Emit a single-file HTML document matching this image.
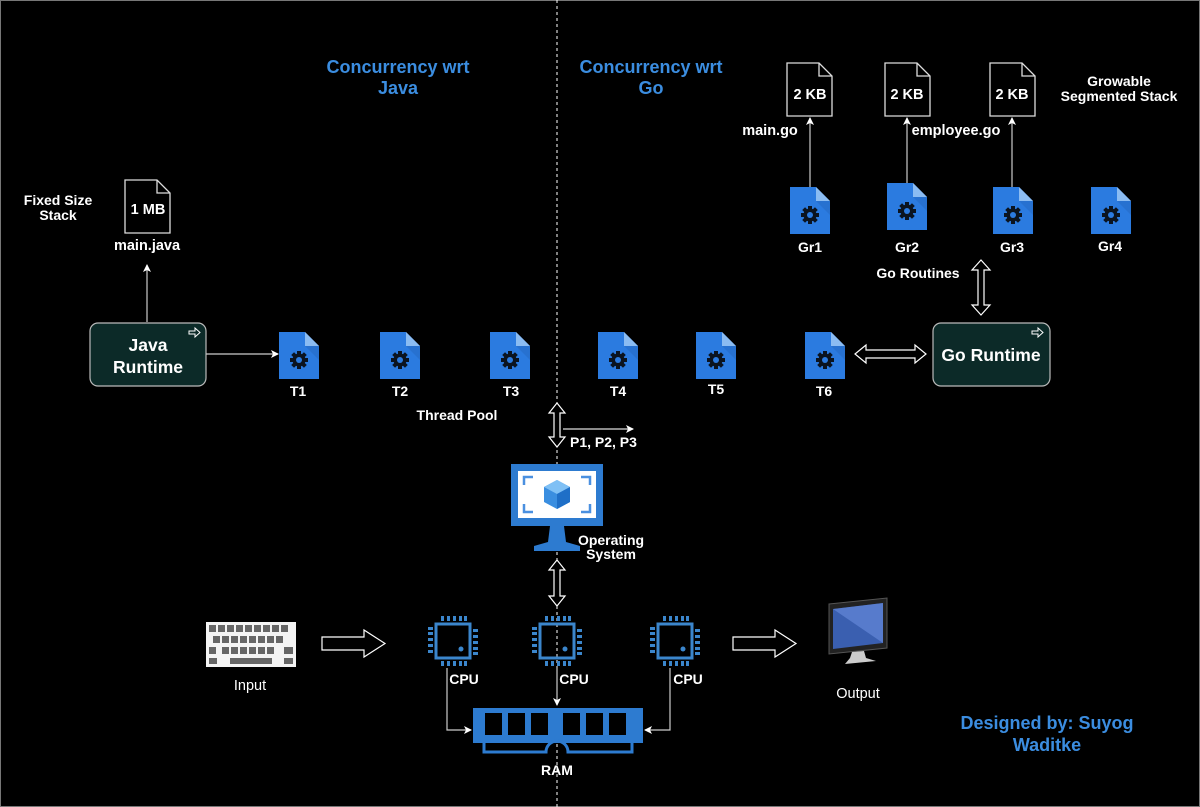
<!DOCTYPE html>
<html><head><meta charset="utf-8"><style>
html,body{margin:0;padding:0;background:#000;}
svg{display:block}
text{font-family:"Liberation Sans",Arial,sans-serif;fill:#fff;font-weight:bold;}
</style></head><body>
<svg width="1200" height="807" viewBox="0 0 1200 807" xmlns="http://www.w3.org/2000/svg">
<defs>
<g id="gdoc">
<path d="M0 0H26L40 14V47H0Z" fill="#2b7be0"/>
<path d="M26 0L40 14H26Z" fill="#8bbcf2"/>
<path d="M26 14L40 14L40 28Z" fill="#246bc4" opacity="0.6"/>
<g transform="translate(20,28)" fill="#0b1420">
<circle r="6.5"/>
<rect x="-2" y="-9" width="4" height="18"/>
<rect x="-9" y="-2" width="18" height="4"/>
<rect x="-2" y="-9" width="4" height="18" transform="rotate(45)"/>
<rect x="-2" y="-9" width="4" height="18" transform="rotate(-45)"/>
<circle r="3" fill="#2b7be0"/>
</g>
</g>
<g id="wdoc">
<path d="M0 0H32L45 13V53H0Z" fill="#000" stroke="#ddd" stroke-width="1.3"/>
<path d="M32 0V13H45" fill="none" stroke="#ddd" stroke-width="1.3"/>
</g>
<g id="cpu" fill="#3b86cc">
<rect x="-17" y="-17" width="34" height="34" fill="none" stroke="#3b86cc" stroke-width="3"/>
<circle cx="8" cy="8" r="2.5"/>
<g id="pins">
<rect x="-12" y="-25" width="3" height="5"/><rect x="-6" y="-25" width="3" height="5"/><rect x="0" y="-25" width="3" height="5"/><rect x="6" y="-25" width="3" height="5"/><rect x="11" y="-25" width="3" height="5"/>
</g>
<use href="#pins" transform="translate(0,45)"/>
<use href="#pins" transform="rotate(90)"/>
<use href="#pins" transform="rotate(-90)"/>
</g>
<marker id="ah" markerWidth="8" markerHeight="8" refX="7" refY="4" orient="auto" markerUnits="userSpaceOnUse"><path d="M0 0L8 4L0 8L2 4Z" fill="#fff"/></marker>
</defs>
<rect x="0.5" y="0.5" width="1199" height="806" fill="#000" stroke="#777"/>
<line x1="557" y1="0" x2="557" y2="807" stroke="#fff" stroke-width="1" stroke-dasharray="3,3"/>

<text x="398" y="73" font-size="18" text-anchor="middle" style="fill:#3b8de0">Concurrency wrt</text>
<text x="398" y="94" font-size="18" text-anchor="middle" style="fill:#3b8de0">Java</text>
<text x="651" y="73" font-size="18" text-anchor="middle" style="fill:#3b8de0">Concurrency wrt</text>
<text x="651" y="94" font-size="18" text-anchor="middle" style="fill:#3b8de0">Go</text>

<text x="58" y="205" font-size="14" text-anchor="middle">Fixed Size</text>
<text x="58" y="220" font-size="14" text-anchor="middle">Stack</text>
<use href="#wdoc" x="125" y="180"/>
<text x="148" y="214" font-size="14.5" text-anchor="middle">1 MB</text>
<text x="147" y="250" font-size="14.5" text-anchor="middle">main.java</text>
<line x1="147" y1="322" x2="147" y2="265" stroke="#ccc" stroke-width="1.2" marker-end="url(#ah)"/>

<rect x="90" y="323" width="116" height="63" rx="8" fill="#0c2a28" stroke="#bbb" stroke-width="1.2"/>
<text x="148" y="351" font-size="17.5" text-anchor="middle">Java</text>
<text x="148" y="373" font-size="17.5" text-anchor="middle">Runtime</text>
<path d="M189 331h6v-3l5 4.5-5 4.5v-3h-6z" fill="none" stroke="#fff" stroke-width="1"/>
<line x1="206" y1="354" x2="278" y2="354" stroke="#ccc" stroke-width="1.2" marker-end="url(#ah)"/>

<use href="#gdoc" x="279" y="332"/><text x="298" y="396" font-size="14" text-anchor="middle">T1</text>
<use href="#gdoc" x="380" y="332"/><text x="400" y="396" font-size="14" text-anchor="middle">T2</text>
<use href="#gdoc" x="490" y="332"/><text x="511" y="396" font-size="14" text-anchor="middle">T3</text>
<use href="#gdoc" x="598" y="332"/><text x="618" y="396" font-size="14" text-anchor="middle">T4</text>
<use href="#gdoc" x="696" y="332"/><text x="716" y="394" font-size="14" text-anchor="middle">T5</text>
<use href="#gdoc" x="805" y="332"/><text x="824" y="396" font-size="14" text-anchor="middle">T6</text>
<text x="457" y="420" font-size="14" text-anchor="middle">Thread Pool</text>

<polygon points="557,403 565,413 560,413 560,437 565,437 557,447 549,437 554,437 554,413 549,413" fill="#000" stroke="#fff" stroke-width="1.2"/>
<line x1="563" y1="429" x2="633" y2="429" stroke="#ddd" stroke-width="1.2" marker-end="url(#ah)"/>
<text x="570" y="447" font-size="14">P1, P2, P3</text>

<rect x="511" y="464" width="92" height="62" fill="#2d7bd0"/>
<rect x="518" y="471" width="78" height="47" fill="#fff"/>
<path d="M524 485v-8h9M590 485v-8h-9M524 504v8h9M590 504v8h-9" fill="none" stroke="#4a90e0" stroke-width="2.5"/>
<polygon points="557,480 570,487 570,502 557,509 544,502 544,487" fill="#3a8ee0"/>
<polygon points="557,480 570,487 557,494 544,487" fill="#7fc0f5"/>
<polygon points="557,494 570,487 570,502 557,509" fill="#1f6fc7"/>
<polygon points="550,526 564,526 566,542 580,546 580,551 534,551 534,546 548,542" fill="#2d7bd0"/>
<text x="611" y="545" font-size="14" text-anchor="middle">Operating</text>
<text x="611" y="559" font-size="14" text-anchor="middle">System</text>
<polygon points="557,560 565,570 560,570 560,596 565,596 557,606 549,596 554,596 554,570 549,570" fill="#000" stroke="#fff" stroke-width="1.2"/>

<use href="#cpu" x="453" y="641"/>
<use href="#cpu" x="557" y="641"/>
<use href="#cpu" x="675" y="641"/>
<text x="464" y="684" font-size="14" text-anchor="middle">CPU</text>
<text x="574" y="684" font-size="14" text-anchor="middle">CPU</text>
<text x="688" y="684" font-size="14" text-anchor="middle">CPU</text>
<path d="M447 668V730H471" fill="none" stroke="#ccc" stroke-width="1.2" marker-end="url(#ah)"/>
<path d="M670 668V730H645" fill="none" stroke="#ccc" stroke-width="1.2" marker-end="url(#ah)"/>
<line x1="557" y1="668" x2="557" y2="705" stroke="#ccc" stroke-width="1.2" marker-end="url(#ah)"/>

<rect x="473" y="708" width="170" height="35" fill="#2d7bd0"/>
<rect x="485" y="713" width="17" height="22" fill="#000"/><rect x="508" y="713" width="17" height="22" fill="#000"/><rect x="531" y="713" width="17" height="22" fill="#000"/>
<rect x="563" y="713" width="17" height="22" fill="#000"/><rect x="586" y="713" width="17" height="22" fill="#000"/><rect x="609" y="713" width="17" height="22" fill="#000"/>
<path d="M484 743v9h62a11 11 0 0 1 22 0h64v-9" fill="none" stroke="#2d7bd0" stroke-width="3"/>
<text x="557" y="775" font-size="14" text-anchor="middle">RAM</text>

<rect x="206" y="622" width="90" height="45" fill="#f4f4f4"/>
<g fill="#666">
<rect x="209" y="625" width="7" height="7"/><rect x="218" y="625" width="7" height="7"/><rect x="227" y="625" width="7" height="7"/><rect x="236" y="625" width="7" height="7"/><rect x="245" y="625" width="7" height="7"/><rect x="254" y="625" width="7" height="7"/><rect x="263" y="625" width="7" height="7"/><rect x="272" y="625" width="7" height="7"/><rect x="281" y="625" width="7" height="7"/>
<rect x="213" y="636" width="7" height="7"/><rect x="222" y="636" width="7" height="7"/><rect x="231" y="636" width="7" height="7"/><rect x="240" y="636" width="7" height="7"/><rect x="249" y="636" width="7" height="7"/><rect x="258" y="636" width="7" height="7"/><rect x="267" y="636" width="7" height="7"/><rect x="276" y="636" width="7" height="7"/>
<rect x="209" y="647" width="7" height="7"/><rect x="222" y="647" width="7" height="7"/><rect x="231" y="647" width="7" height="7"/><rect x="240" y="647" width="7" height="7"/><rect x="249" y="647" width="7" height="7"/><rect x="258" y="647" width="7" height="7"/><rect x="267" y="647" width="7" height="7"/><rect x="284" y="647" width="9" height="7"/>
<rect x="209" y="658" width="8" height="6"/><rect x="230" y="658" width="42" height="6"/><rect x="284" y="658" width="9" height="6"/>
</g>
<text x="250" y="690" font-size="14.5" text-anchor="middle" style="font-weight:normal">Input</text>
<polygon points="322,637 364,637 364,630 385,643.5 364,657 364,650 322,650" fill="#000" stroke="#fff" stroke-width="1.2"/>
<polygon points="733,637 775,637 775,630 796,643.5 775,657 775,650 733,650" fill="#000" stroke="#fff" stroke-width="1.2"/>

<polygon points="829,604 887,598 887,648 829,654" fill="#222" stroke="#555"/>
<polygon points="833,609 883,603 883,643 833,649" fill="#3a5fb0"/>
<polygon points="833,609 883,603 883,643" fill="#6a8ee0" opacity="0.6"/>
<polygon points="852,652 864,651 866,658 876,661 845,664 850,658" fill="#ccc"/>
<text x="858" y="698" font-size="14.5" text-anchor="middle" style="font-weight:normal">Output</text>

<text x="1047" y="729" font-size="18" text-anchor="middle" style="fill:#3b8de0">Designed by: Suyog</text>
<text x="1047" y="751" font-size="18" text-anchor="middle" style="fill:#3b8de0">Waditke</text>

<use href="#wdoc" x="787" y="63"/><text x="810" y="99" font-size="14.5" text-anchor="middle">2 KB</text>
<use href="#wdoc" x="885" y="63"/><text x="907" y="99" font-size="14.5" text-anchor="middle">2 KB</text>
<use href="#wdoc" x="990" y="63"/><text x="1012" y="99" font-size="14.5" text-anchor="middle">2 KB</text>
<text x="1119" y="86" font-size="14" text-anchor="middle">Growable</text>
<text x="1119" y="101" font-size="14" text-anchor="middle">Segmented Stack</text>
<text x="770" y="135" font-size="14.5" text-anchor="middle">main.go</text>
<text x="956" y="135" font-size="14.5" text-anchor="middle">employee.go</text>
<line x1="810" y1="187" x2="810" y2="118" stroke="#ccc" stroke-width="1.2" marker-end="url(#ah)"/>
<line x1="907" y1="183" x2="907" y2="118" stroke="#ccc" stroke-width="1.2" marker-end="url(#ah)"/>
<line x1="1012" y1="187" x2="1012" y2="118" stroke="#ccc" stroke-width="1.2" marker-end="url(#ah)"/>
<use href="#gdoc" x="790" y="187"/><text x="810" y="252" font-size="14" text-anchor="middle">Gr1</text>
<use href="#gdoc" x="887" y="183"/><text x="907" y="252" font-size="14" text-anchor="middle">Gr2</text>
<use href="#gdoc" x="993" y="187"/><text x="1012" y="252" font-size="14" text-anchor="middle">Gr3</text>
<use href="#gdoc" x="1091" y="187"/><text x="1110" y="251" font-size="14" text-anchor="middle">Gr4</text>
<text x="918" y="278" font-size="14" text-anchor="middle">Go Routines</text>
<polygon points="981,260 990,270 984,270 984,305 990,305 981,315 972,305 978,305 978,270 972,270" fill="#000" stroke="#fff" stroke-width="1.2"/>

<rect x="933" y="323" width="117" height="63" rx="8" fill="#0c2a28" stroke="#bbb" stroke-width="1.2"/>
<text x="991" y="361" font-size="17.5" text-anchor="middle">Go Runtime</text>
<path d="M1032 331h6v-3l5 4.5-5 4.5v-3h-6z" fill="none" stroke="#fff" stroke-width="1"/>
<polygon points="855,354 866,345 866,350 915,350 915,345 926,354 915,363 915,358 866,358 866,363" fill="#000" stroke="#fff" stroke-width="1.2"/>
</svg>
</body></html>
